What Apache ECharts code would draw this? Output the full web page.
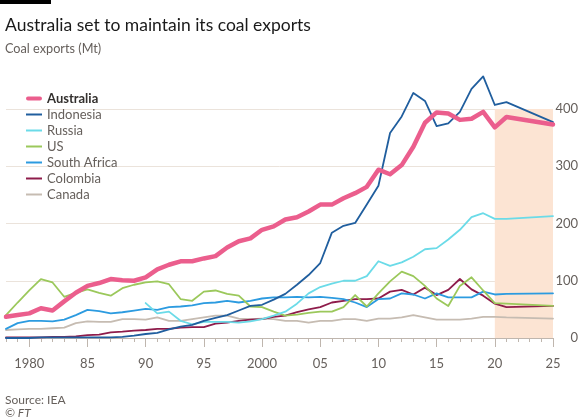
<!DOCTYPE html>
<html>
<head>
<meta charset="utf-8">
<script src="https://cdn.jsdelivr.net/npm/echarts@6/dist/echarts.min.js"></script>
<style>
  html, body { margin: 0; padding: 0; background: #fff; }
  #main { width: 588px; height: 420px; }
</style>
</head>
<body>
<div id="main"></div>
<script>
// years 1978 - 2025, null = no value (forecast years joined by a straight line)
let years = [];
for (let y = 1978; y <= 2025; y++) years.push(String(y));

let australia = [37,40,43,52,48,64,79,91,96,103,101,100,106,120,128,134,134,139,143,158,169,174,189,195,207,211,221,233,233,244,253,264,294,286,302,334,376,394,392,381,383,395,368,386,null,null,null,373];
let indonesia = [0,0,0,1,1,1,1,1,1,1,2,4,7,9,15,20,23,30,35,40,48,56,58,67,77,93,110,131,184,196,201,233,266,358,387,428,414,370,375,395,435,457,407,412,null,null,null,377];
let russia = [null,null,null,null,null,null,null,null,null,null,null,null,61,43,46,30,24,28,28,28,27,29,33,39,46,60,78,89,95,100,100,108,134,126,132,142,155,157,172,189,211,218,208,208,null,null,null,213];
let us = [40,62,83,103,97,72,79,85,79,74,87,93,97,99,94,68,65,81,83,77,74,55,54,46,39,41,44,46,46,54,75,55,78,99,116,108,91,69,56,91,106,83,61,60,null,null,null,56];
let southAfrica = [16,26,30,30,29,32,40,49,47,43,45,48,51,49,54,55,57,61,62,65,62,65,69,71,71,72,71,72,70,68,62,54,68,69,78,76,69,78,71,71,71,81,76,77,null,null,null,78];
let colombia = [1,1,1,1,2,2,3,5,6,10,11,13,14,16,16,18,19,19,25,27,30,32,33,37,39,45,50,54,62,65,68,68,69,81,84,76,88,75,84,103,85,74,60,54,null,null,null,56];
let canada = [14,15,16,16,17,18,26,29,28,28,33,33,32,36,30,30,33,36,39,39,34,33,34,33,30,30,27,30,30,33,33,30,34,34,36,40,36,32,32,32,34,37,37,36,null,null,null,34];

let countries = ['Australia','Indonesia','Russia','US','South Africa','Colombia','Canada'];
let values = [australia, indonesia, russia, us, southAfrica, colombia, canada];
let colors = ['#eb5e8d','#205e9e','#6bdbe8','#9bc85b','#2c9be0','#8e1c4b','#c6bcb2'];

let yTicks = [0, 100, 200, 300, 400];
let forecastStart = '2020';
let forecastEnd = '2025';

let font = 'Lato, "Open Sans", sans-serif';
let grey = '#66605c';

// legend keys: thick rounded bar for Australia, thin bar for the others
let thickKey = 'path://M2,0 H14 A2,2 0 0 1 14,4 H2 A2,2 0 0 1 2,0 Z';
let thinKey = 'path://M0,0 H16 V2 H0 Z';

let myChart = echarts.init(document.getElementById('main'));

let series = countries.map((name, i) => {
	let s = {
		name: name,
		type: 'line',
		data: values[i],
		symbol: 'none',
		connectNulls: true,
		clip: false,
		z: i === 0 ? 10 : 9 - i,
		lineStyle: { color: colors[i], width: i === 0 ? 4.5 : 1.8, cap: 'round', join: 'round' },
		itemStyle: { color: colors[i] }
	};
	if (i === 0) {
		// shaded forecast years
		s.markArea = {
			silent: true,
			itemStyle: { color: '#fce4d3' },
			data: [[{ coord: [forecastStart, yTicks[0]] }, { coord: [forecastEnd, yTicks[yTicks.length - 1]] }]]
		};
	}
	return s;
});

let option = {
	animation: false,
	backgroundColor: '#fff',
	textStyle: { fontFamily: font },
	graphic: [
		{ type: 'rect', left: 0, top: 0, shape: { width: 51, height: 4 }, style: { fill: '#000' } }
	],
	title: [
		{ text: 'Australia set to maintain its coal exports', left: 0, top: 11,
		  textStyle: { fontFamily: font, fontSize: 17.5, fontWeight: 'normal', color: '#1a1a1a' } },
		{ text: 'Coal exports (Mt)', left: 0, top: 37,
		  textStyle: { fontFamily: font, fontSize: 12.7, fontWeight: 'normal', color: grey } },
		{ text: 'Source: IEA', left: 0, top: 389,
		  textStyle: { fontFamily: font, fontSize: 12, fontWeight: 'normal', color: grey } },
		{ text: '© FT', left: 0, top: 402,
		  textStyle: { fontFamily: font, fontSize: 12, fontWeight: 'normal', fontStyle: 'italic', color: grey } }
	],
	legend: {
		orient: 'vertical',
		left: 21,
		top: 87,
		itemWidth: 16,
		itemHeight: 6,
		itemGap: 3,
		textStyle: { fontFamily: font, fontSize: 13, color: grey },
		data: countries.map((name, i) => i === 0
			? { name: name, icon: thickKey, itemStyle: { color: colors[i] }, textStyle: { fontWeight: 'bold', color: '#33302e' } }
			: { name: name, icon: thinKey, itemStyle: { color: colors[i] } })
	},
	grid: { left: 6, right: 35, top: 109, bottom: 82 },
	xAxis: [
		{
			type: 'category',
			data: years,
			boundaryGap: false,
			axisLine: { lineStyle: { color: '#bfb6ae', width: 1 } },
			axisTick: { interval: 0, length: 4, lineStyle: { color: '#bfb6ae' } },
			axisLabel: {
				interval: (i, v) => Number(v) % 5 === 0,
				formatter: v => (v === '1980' || v === '2000') ? v : v.slice(2),
				margin: 19,
				fontFamily: font,
				fontSize: 13,
				color: grey
			}
		},
		{
			type: 'category',
			data: years,
			boundaryGap: false,
			position: 'bottom',
			axisLine: { show: false },
			axisTick: { interval: (i, v) => Number(v) % 5 === 0, length: 9, lineStyle: { color: '#bfb6ae' } },
			axisLabel: { show: false }
		}
	],
	yAxis: {
		type: 'value',
		position: 'right',
		min: yTicks[0],
		max: yTicks[yTicks.length - 1],
		interval: 100,
		axisLine: { show: false },
		axisTick: { show: false },
		splitLine: { lineStyle: { color: '#ebe3db', width: 1 } },
		axisLabel: { align: 'right', margin: 25, fontFamily: font, fontSize: 13, color: grey }
	},
	series: series
};

myChart.setOption(option);
</script>
</body>
</html>
